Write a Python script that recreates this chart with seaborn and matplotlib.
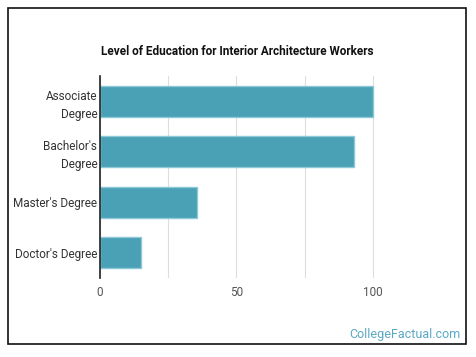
import matplotlib
matplotlib.use("Agg")
import matplotlib.pyplot as plt
import seaborn as sns
import pandas as pd
from matplotlib.patches import Rectangle

# 数据
categories = ["Associate\nDegree", "Bachelor's\nDegree", "Master's Degree", "Doctor's Degree"]
values = [100, 93.0, 35.6, 15.1]
x_ticks = [0, 50, 100]

sns.set_style("white")
plt.rcParams['font.family'] = ['Roboto', 'DejaVu Sans']

df = pd.DataFrame({"level": categories, "value": values})

fig = plt.figure(figsize=(4.76, 3.57), dpi=100)
ax = fig.add_axes([0.2101, 0.2213, 0.714, 0.5658])

sns.barplot(data=df, x="value", y="level", orient="h", color="#4aa0b5",
            width=0.62, edgecolor="#8cc8d6", linewidth=1, saturation=1, ax=ax)

ax.set_xlim(0, 124.5)
ax.set_ylim(3.5, -0.5)
ax.set_xticks(x_ticks)
ax.set_xticks([25, 75], minor=True)
ax.grid(True, axis="x", which="both", color="#dddddd", linewidth=0.8)
ax.set_axisbelow(True)
for s in ["top", "right", "bottom"]:
    ax.spines[s].set_visible(False)
ax.spines["left"].set_color("#222222")
ax.spines["left"].set_linewidth(1.2)
ax.tick_params(axis="both", which="both", length=0)
ax.tick_params(axis="y", pad=2, labelsize=8.5, labelcolor="#333333")
ax.tick_params(axis="x", pad=6, labelsize=8.5, labelcolor="#555555")
for lbl in ax.get_yticklabels():
    lbl.set_linespacing(1.5)
ax.set_xlabel("")
ax.set_ylabel("")

fig.text(0.498, 0.857, "Level of Education for Interior Architecture Workers",
         ha="center", va="center", fontsize=8.5, fontweight="bold", color="#111111")
fig.text(0.968, 0.064, "CollegeFactual.com", ha="right", va="center",
         fontsize=9, color="#5ba8c4")

# 外框
fig.patches.append(Rectangle((8 / 476, 1 - 344 / 357), 458 / 476, 336 / 357,
                             transform=fig.transFigure, fill=False,
                             edgecolor="#111111", linewidth=1.2))

fig.savefig("out.png", dpi=100)
